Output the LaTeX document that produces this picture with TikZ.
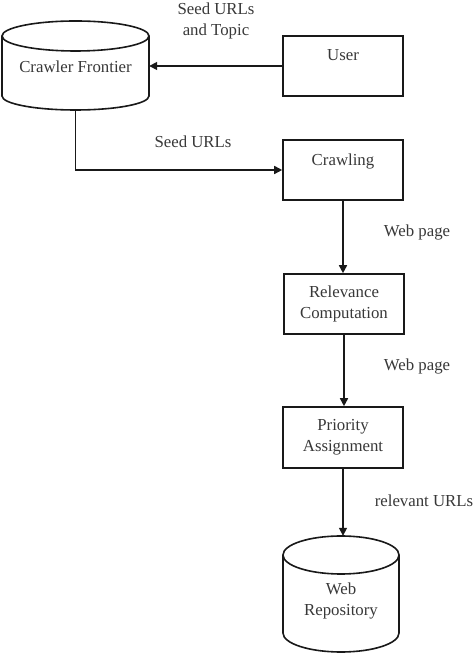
\documentclass[tikz,border=0pt]{standalone}
\usepackage{fontspec}
\setmainfont{Liberation Serif}
\usetikzlibrary{arrows.meta}
\begin{document}
\begin{tikzpicture}[x=1pt,y=1pt,
  every node/.style={font=\fontsize{16.8}{21}\selectfont, text=black!78, align=center},
  procbox/.style={draw=black!90, line width=1.6pt, minimum width=120pt, minimum height=60pt, inner sep=0pt},
  ghost/.style={draw=none, inner sep=0pt},
  cyl/.style={draw=black!90, line width=1.6pt},
  flow/.style={draw=black!90, line width=1.6pt, -{Triangle[length=8pt,width=8pt]}},
  lbl/.style={inner sep=0pt}
]
\useasboundingbox (0,0) rectangle (474,655);
% Crawler Frontier cylinder
\draw[cyl] (75.5,619) ellipse [x radius=73.5, y radius=15];
\draw[cyl] (2,619) -- (2,559) arc[start angle=180, end angle=360, x radius=73.5, y radius=14] -- (149,619);
\node[ghost, minimum width=147pt, minimum height=90pt] (cf) at (75.5,590) {};
\node[lbl] (cftext) at (75.5,588) {Crawler Frontier};
% Web Repository cylinder
\draw[cyl] (341,100) ellipse [x radius=58, y radius=19];
\draw[cyl] (283,100) -- (283,22) arc[start angle=180, end angle=360, x radius=58, y radius=19] -- (399,100);
\node[ghost, minimum width=116pt, minimum height=116pt] (wr) at (341,61) {};
\node[lbl] (wrtext) at (341,54) {Web\\Repository};
% Boxes
\node[procbox] (user) at (343,589) {User\\~};
\node[procbox] (crawl) at (343,485) {Crawling\\~};
\node[procbox] (rel) at (344,351) {Relevance\\Computation};
\node[procbox, minimum height=61pt] (pri) at (343,217.5) {Priority\\Assignment};
% Connectors
\draw[flow] (user.west) -- (user.west -| cf.east);
\draw[flow] (cf.south) |- (crawl.west);
\draw[flow] (crawl.south) -- (crawl.south |- rel.north);
\draw[flow] (rel.south) -- (rel.south |- pri.north);
\draw[flow] (pri.south) -- (pri.south |- wr.north);
% Labels
\node[lbl] (l1) at (216,634.5) {Seed URLs\\and Topic};
\node[lbl] (l2) at (193,513) {Seed URLs};
\node[lbl] (l3) at (417,423) {Web page};
\node[lbl] (l4) at (417,289) {Web page};
\node[lbl] (l5) at (424,154) {relevant URLs};
\end{tikzpicture}
\end{document}
